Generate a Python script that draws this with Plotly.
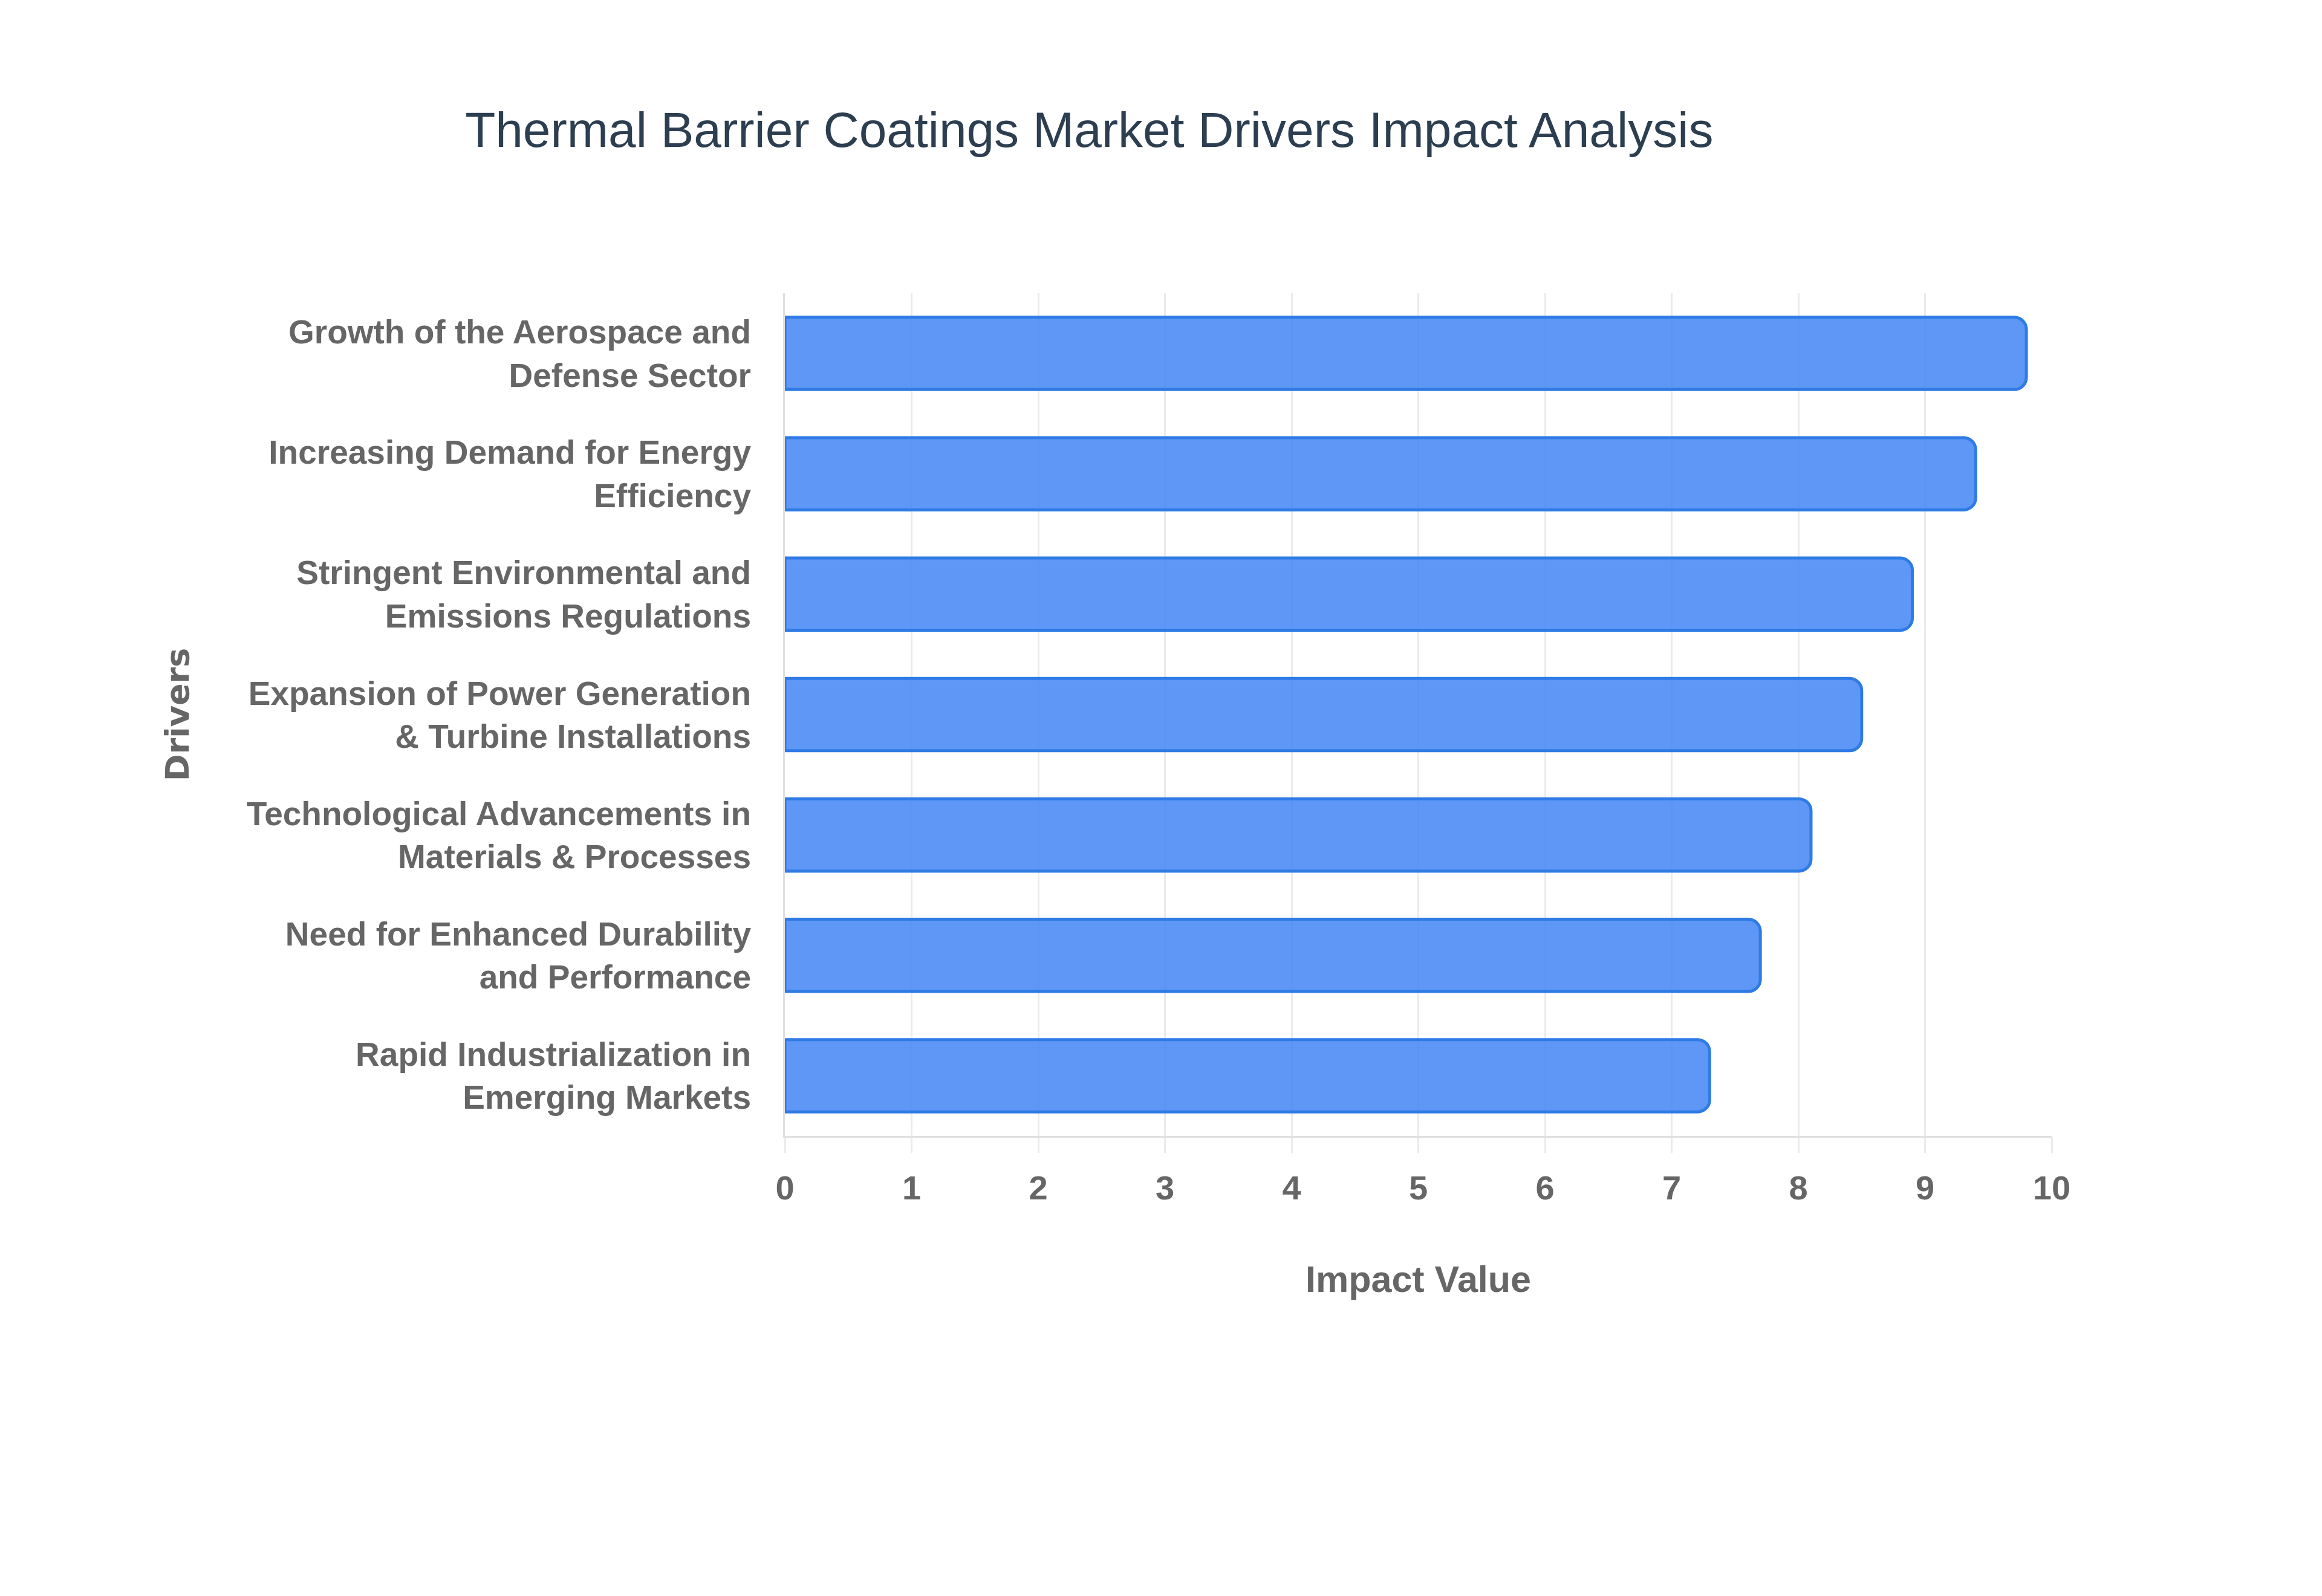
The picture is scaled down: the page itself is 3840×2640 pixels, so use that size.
import plotly.graph_objects as go

# drivers, listed top to bottom as in the chart
drivers = [
    "Growth of the Aerospace and<br>Defense Sector",
    "Increasing Demand for Energy<br>Efficiency",
    "Stringent Environmental and<br>Emissions Regulations",
    "Expansion of Power Generation<br>& Turbine Installations",
    "Technological Advancements in<br>Materials & Processes",
    "Need for Enhanced Durability<br>and Performance",
    "Rapid Industrialization in<br>Emerging Markets",
]
impact = [9.8, 9.4, 8.9, 8.5, 8.1, 7.7, 7.3]

x_ticks = list(range(0, 11))

fig = go.Figure(
    go.Bar(
        x=impact,
        y=drivers,
        orientation="h",
        marker=dict(
            color="rgba(66,133,244,0.85)",
            line=dict(color="#2f7be6", width=5),
            cornerradius=20,
        ),
        hoverinfo="x+y",
    )
)

fig.update_layout(
    width=3840,
    height=2640,
    paper_bgcolor="white",
    plot_bgcolor="white",
    margin=dict(l=1290, r=455, t=477, b=769),
    bargap=0.4,
    showlegend=False,
    font=dict(family="Liberation Sans, Arial, sans-serif", color="#666666"),
    title=dict(
        text="Thermal Barrier Coatings Market Drivers Impact Analysis",
        x=0.467,
        xanchor="center",
        y=0.922,
        yanchor="middle",
        font=dict(family="Liberation Sans, Arial, sans-serif", size=82, color="#2c3e50"),
    ),
    xaxis=dict(
        range=[0, 10],
        tickvals=x_ticks,
        showgrid=True,
        gridcolor="#ebebeb",
        gridwidth=3,
        zeroline=False,
        showline=True,
        linecolor="#e0e0e0",
        linewidth=3,
        ticks="outside",
        ticklen=25,
        tickwidth=3,
        tickcolor="#ebebeb",
        ticklabelstandoff=10,
        tickfont=dict(size=56, color="#666666", family="Liberation Sans, Arial, sans-serif", weight="bold"),
        title=dict(
            text="Impact Value",
            standoff=100,
            font=dict(size=61, color="#666666", family="Liberation Sans, Arial, sans-serif", weight="bold"),
        ),
    ),
    yaxis=dict(
        autorange="reversed",
        showgrid=False,
        zeroline=False,
        showline=True,
        linecolor="#e0e0e0",
        linewidth=3,
        ticks="outside",
        ticklen=42,
        tickcolor="rgba(0,0,0,0)",
        tickfont=dict(size=55, color="#666666", family="Liberation Sans, Arial, sans-serif", weight="bold"),
        title=dict(
            text="Drivers",
            standoff=78,
            font=dict(size=54, color="#666666", family="DejaVu Sans, sans-serif", weight="bold"),
        ),
    ),
)

fig.write_html("out.html")
